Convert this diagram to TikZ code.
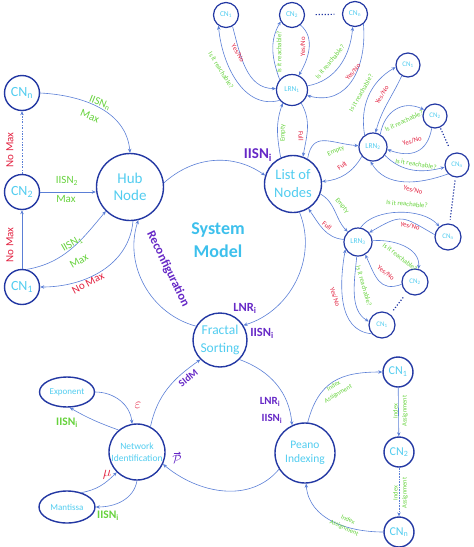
\documentclass[tikz,border=0pt]{standalone}
\usepackage{fontspec}
\setmainfont{Carlito}
\usetikzlibrary{arrows.meta,shapes.geometric}
\definecolor{nodeblue}{HTML}{2338A3}
\definecolor{linkblue}{HTML}{5B7FD6}
\definecolor{cyantext}{HTML}{52CDF0}
\definecolor{sysmodel}{HTML}{3DC0EC}
\definecolor{labgreen}{HTML}{66D23C}
\definecolor{labred}{HTML}{E2203F}
\definecolor{labpurple}{HTML}{6628C6}
\begin{document}
\begin{tikzpicture}[x=1pt,y=1pt,
  bnode/.style={circle,draw=nodeblue,line width=1.4pt,fill=white,text=cyantext,inner sep=0pt,align=center},
  snode/.style={bnode,line width=1.2pt},
  conn/.style={draw=linkblue,line width=0.6pt,-{Stealth[length=4pt,width=3.4pt]}},
  dotline/.style={draw=nodeblue,line width=1.2pt,dash pattern=on 1.2pt off 1.8pt},
  lab/.style={inner sep=0pt,align=center},
  sg/.style={lab,text=labgreen,font=\fontsize{6.8}{8}\selectfont},
  sr/.style={lab,text=labred,font=\fontsize{6.8}{8}\selectfont},
  bg/.style={lab,text=labgreen,font=\fontsize{11}{12}\selectfont},
  br/.style={lab,text=labred,font=\fontsize{11}{12}\selectfont},
  pl/.style={lab,text=labpurple,font=\fontsize{12.5}{13}\selectfont\bfseries},
  ia/.style={lab,text=labgreen,font=\fontsize{6.5}{9}\selectfont}]
\useasboundingbox (0,-547) rectangle (474,0);

% ---- main nodes
\node[bnode,minimum size=67pt,font=\fontsize{15}{17}\selectfont] (hub) at (130,-187) {Hub\\Node};
\node[bnode,minimum size=57pt,font=\fontsize{14.5}{18}\selectfont] (list) at (293,-184) {List of\\Nodes};
\node[bnode,minimum size=54pt,font=\fontsize{13.5}{17.5}\selectfont] (fractal) at (220,-340) {Fractal\\Sorting};
\node[bnode,minimum size=56pt,font=\fontsize{9.5}{12}\selectfont] (netid) at (137,-452) {Network\\Identification};
\node[bnode,ellipse,minimum width=55pt,minimum height=30pt,font=\fontsize{9}{10}\selectfont] (expo) at (67,-392) {Exponent};
\node[bnode,ellipse,minimum width=56pt,minimum height=32pt,font=\fontsize{9}{10}\selectfont] (mant) at (67,-507) {Mantissa};
\node[bnode,minimum size=60pt,font=\fontsize{11.5}{14}\selectfont] (peano) at (305,-453) {Peano\\Indexing};

\node[lab,text=sysmodel,font=\fontsize{18}{23}\selectfont\bfseries] (sm) at (218,-240) {System\\Model};

% left CN nodes
\node[bnode,minimum size=35pt,font=\fontsize{14}{15}\selectfont] (lcnn) at (22,-93) {CN\textsubscript{n}};
\node[bnode,minimum size=35pt,font=\fontsize{14}{15}\selectfont] (lcn2) at (22,-192) {CN\textsubscript{2}};
\node[bnode,minimum size=35pt,font=\fontsize{14}{15}\selectfont] (lcn1) at (22,-287) {CN\textsubscript{1}};

% Peano CN nodes
\node[bnode,minimum size=30pt,font=\fontsize{12}{13}\selectfont] (pcn1) at (398,-372) {CN\textsubscript{1}};
\node[bnode,minimum size=30pt,font=\fontsize{12}{13}\selectfont] (pcn2) at (399,-452) {CN\textsubscript{2}};
\node[bnode,minimum size=30pt,font=\fontsize{12}{13}\selectfont] (pcn3) at (399,-532) {CN\textsubscript{n}};

% top-right clusters
\node[snode,minimum size=31pt,font=\fontsize{7.5}{8}\selectfont] (lrn1) at (292,-90) {LRN\textsubscript{1}};
\node[snode,minimum size=28pt,font=\fontsize{7.5}{8}\selectfont] (lrn2) at (373,-147) {LRN\textsubscript{2}};
\node[snode,minimum size=28pt,font=\fontsize{7.5}{8}\selectfont] (lrn3) at (358,-242) {LRN\textsubscript{3}};
\node[snode,minimum size=25pt,font=\fontsize{7.5}{8}\selectfont] (tcn1) at (226,-15) {CN\textsubscript{1}};
\node[snode,minimum size=25pt,font=\fontsize{7.5}{8}\selectfont] (tcn2) at (292,-15) {CN\textsubscript{2}};
\node[snode,minimum size=25pt,font=\fontsize{7.5}{8}\selectfont] (tcn3) at (355,-14) {CN\textsubscript{n}};
\node[snode,minimum size=24pt,font=\fontsize{7}{8}\selectfont] (c2a) at (408,-65) {CN\textsubscript{1}};
\node[snode,minimum size=24pt,font=\fontsize{7}{8}\selectfont] (c2b) at (435,-116) {CN\textsubscript{2}};
\node[snode,minimum size=24pt,font=\fontsize{7}{8}\selectfont] (c2c) at (457,-165) {CN\textsubscript{n}};
\node[snode,minimum size=26pt,font=\fontsize{7}{8}\selectfont] (c3a) at (448,-237) {CN\textsubscript{n}};
\node[snode,minimum size=26pt,font=\fontsize{7}{8}\selectfont] (c3b) at (415,-282) {CN\textsubscript{2}};
\node[snode,minimum size=26pt,font=\fontsize{7}{8}\selectfont] (c3c) at (382,-325) {CN\textsubscript{1}};

% ---- system model circle
\draw[conn] (hub.7) to[out=42,in=145] (list.163);
\draw[conn] (list.-77) to[out=-68,in=17] (fractal.32);
\draw[conn] (fractal.150) to[out=165,in=-108] (hub.-76);
\node[pl,rotate=-64] (reconf) at (168,-269) {Reconfiguration};
\node[lab,text=labpurple,font=\fontsize{15}{15}\selectfont\bfseries] (iisnl) at (258,-155) {IISN\textsubscript{i}};
\node[pl] (lnrf) at (245,-308) {LNR\textsubscript{i}};
\node[pl] (iisnf) at (262,-333) {IISN\textsubscript{i}};

% ---- left cluster
\draw[conn] (lcnn.east) to[out=-3,in=95] (hub.north);
\draw[conn] (lcn2.east) -- (lcn2.east -| hub.west);
\draw[conn] (lcn1.75) to[out=10,in=-130] (hub.-135);
\draw[conn] (hub.-85) to[out=-95,in=0] (lcn1.east);
\draw[conn] (lcn1) -- (lcn2);
\draw[conn,dash pattern=on 2pt off 1.5pt on 0.6pt off 1.5pt] (lcn2) -- (lcnn);
\node[bg,rotate=-22] (ln1) at (100,-103) {IISN\textsubscript{n}};
\node[bg,rotate=-22] (ln2) at (90,-116) {Max};
\node[bg] (ln3) at (67,-181) {IISN\textsubscript{2}};
\node[bg] (ln4) at (66,-199) {Max};
\node[bg,rotate=30] (ln5) at (72,-244) {IISN\textsubscript{1}};
\node[bg,rotate=30] (ln6) at (79,-261) {Max};
\node[br,rotate=28] (ln7) at (88,-283) {No Max};
\node[br,rotate=90] (ln8) at (10,-245) {No Max};
\node[br,rotate=90] (ln9) at (10,-150) {No Max};

% ---- LRN1 cluster
\draw[conn] (list.115) to[out=100,in=-110] (lrn1.-125);
\draw[conn] (lrn1.-55) to[out=-60,in=80] (list.70);
\node[sg,rotate=90] (e1) at (283,-133) {Empty};
\node[sr,rotate=-90] (f1) at (301,-136) {Full};
\draw[conn] (lrn1.-140) to[out=195,in=-85] (tcn1.-125);
\draw[conn] (tcn1.-60) to[out=-75,in=180] (lrn1.175);
\node[sg,rotate=-58] (q1) at (221,-70) {Is it reachable?};
\node[sr,rotate=-60] (y1) at (238,-53) {Yes/No};
\draw[conn] (lrn1.140) to[out=110,in=-120] (tcn2.-150);
\draw[conn] (tcn2.-50) to[out=-40,in=60] (lrn1.65);
\node[sg,rotate=90] (q2) at (279,-52) {Is it reachable?};
\node[sr,rotate=90] (y2) at (303,-47) {Yes/No};
\draw[conn] (lrn1.15) to[out=10,in=-95] (tcn3.-100);
\draw[conn,looseness=1.2] (tcn3.-50) to[out=-85,in=-15] (lrn1.-20);
\node[sg,rotate=50] (q3) at (330,-62) {Is it reachable?};
\node[sr,rotate=50] (y3) at (353,-72) {Yes/No};
\draw[dotline,shorten <=10.5pt,shorten >=7.5pt] (tcn2) -- (tcn3);

% ---- LRN2 cluster
\draw[conn,looseness=1.4] (list.60) to[out=80,in=175] (lrn2.175);
\draw[conn] (lrn2.-140) to[out=-120,in=5] (list.5);
\node[sg,rotate=25] (e2) at (336,-151) {Empty};
\node[sr,rotate=35] (f2) at (342,-166) {Full};
\draw[conn] (lrn2.125) to[out=100,in=-150] (c2a.190);
\draw[conn] (c2a.-120) to[out=-115,in=75] (lrn2.80);
\node[sg,rotate=60] (q4) at (361,-93) {Is it reachable?};
\node[sr,rotate=58] (y4) at (382,-95) {Yes/No};
\draw[conn,looseness=1.2] (lrn2.60) to[out=80,in=155] (c2b.150);
\draw[conn,looseness=1.3] (c2b.-105) to[out=-100,in=-20] (lrn2.-10);
\node[sg,rotate=25] (q5) at (404,-121) {Is it reachable?};
\node[sr,rotate=17] (y5) at (412,-141) {Yes/No};
\draw[conn] (lrn2.-35) to[out=-45,in=195] (c2c.190);
\draw[conn] (c2c.-135) to[out=-160,in=-60] (lrn2.-100);
\node[sg,rotate=-9] (q6) at (416,-164) {Is it reachable?};
\node[sr,rotate=-15] (y6) at (413,-190) {Yes/No};
\draw[dotline,shorten <=1pt,shorten >=8pt] (c2b) -- (c2c);
\draw[dotline,shorten <=3pt,shorten >=4pt] (c2c) -- (c3a);

% ---- LRN3 cluster
\draw[conn] (list.-20) to[out=-30,in=135] (lrn3.135);
\draw[conn] (lrn3.170) to[out=175,in=-55] (list.-58);
\node[sg,rotate=-50] (e3) at (342,-206) {Empty};
\node[sr,rotate=-38] (f3) at (327,-226) {Full};
\draw[conn,looseness=0.8] (lrn3.80) to[out=55,in=130] (c3a.130);
\draw[conn,looseness=1.5] (c3a.170) to[out=150,in=30] (lrn3.40);
\node[sg,rotate=-5] (q7) at (407,-204) {Is it reachable?};
\node[sr,rotate=-12] (y7) at (410,-226) {Yes/No};
\draw[conn] (lrn3.5) to[out=5,in=85] (c3b.75);
\draw[conn,looseness=1.3] (c3b.190) to[out=200,in=-65] (lrn3.-60);
\node[sg,rotate=-38] (q8) at (400,-257) {Is it reachable?};
\node[sr,rotate=-38] (y8) at (386,-273) {Yes/No};
\draw[conn,looseness=0.9] (lrn3.-95) to[out=-95,in=150] (c3c.165);
\draw[conn] (c3c.-140) to[out=175,in=-100] (lrn3.-150);
\node[sg,rotate=-74] (q9) at (364,-286) {Is it reachable?};
\node[sr,rotate=-72] (y9) at (335,-297) {Yes/No};
\draw[dotline,shorten <=5pt,shorten >=5pt] (c3c) -- (c3b);

% ---- bottom part
\draw[conn] (netid.62) to[out=78,in=-145] (fractal.-135);
\node[lab,text=labpurple,font=\fontsize{10}{11}\selectfont\bfseries,rotate=39] (sidm) at (188,-378) {SIdM};
\draw[conn] (fractal.-45) to[out=-20,in=95] (peano.115);
\node[lab,text=labpurple,font=\fontsize{11}{12}\selectfont\bfseries] (lnrp) at (270,-402) {LNR\textsubscript{i}};
\node[lab,text=labpurple,font=\fontsize{11}{12}\selectfont\bfseries] (iisnp) at (272,-419) {IISN\textsubscript{i}};
\draw[conn] (peano.-148) to[out=-130,in=-40] (netid.-25);
\node[lab,text=labpurple,font=\fontsize{13}{13}\selectfont] (pvec) at (177,-459) {$\mathcal{P}$};
\draw[labpurple,line width=0.6pt,-{Straight Barb[length=1.6pt,width=2.6pt]}] ([xshift=-3.5pt,yshift=1.5pt]pvec.north) -- ([xshift=3.8pt,yshift=1.5pt]pvec.north);

\draw[conn] (expo.east) to[out=0,in=95] (netid.100);
\node[lab,text=labred,font=\fontsize{15}{15}\selectfont] (eps) at (138,-405) {$\varepsilon$};
\draw[conn] (netid.130) to[out=160,in=-30] (expo.-80);
\node[lab,text=labgreen,font=\fontsize{11.5}{12}\selectfont\bfseries] (iisne) at (67,-423) {IISN\textsubscript{i}};
\draw[conn] (mant.45) to[out=10,in=-135] (netid.-135);
\node[lab,text=labred,font=\fontsize{15}{15}\selectfont] (mu) at (107,-475) {$\mu$};
\draw[conn] (netid.-90) to[out=-100,in=0] (mant.east);
\node[lab,text=labgreen,font=\fontsize{11.5}{12}\selectfont\bfseries] (iisnm) at (108,-516) {IISN\textsubscript{i}};

\draw[conn,looseness=1.2] (peano.85) to[out=75,in=180] (pcn1.west);
\node[ia,rotate=30] (ia1) at (336,-390) {Index\\Assignment};
\draw[conn] (pcn1) -- (pcn2);
\node[ia,rotate=90] (ia2) at (400.5,-411) {Index\\Assignment};
\draw[conn,densely dotted] (pcn2) -- (pcn3);
\node[ia,rotate=90] (ia3) at (400.5,-493) {Index\\Assignment};
\draw[conn] (pcn3.west) to[out=180,in=-85] (peano.-88);
\node[ia,rotate=-25] (ia4) at (346,-524) {Index\\Assignment};
\end{tikzpicture}
\end{document}
